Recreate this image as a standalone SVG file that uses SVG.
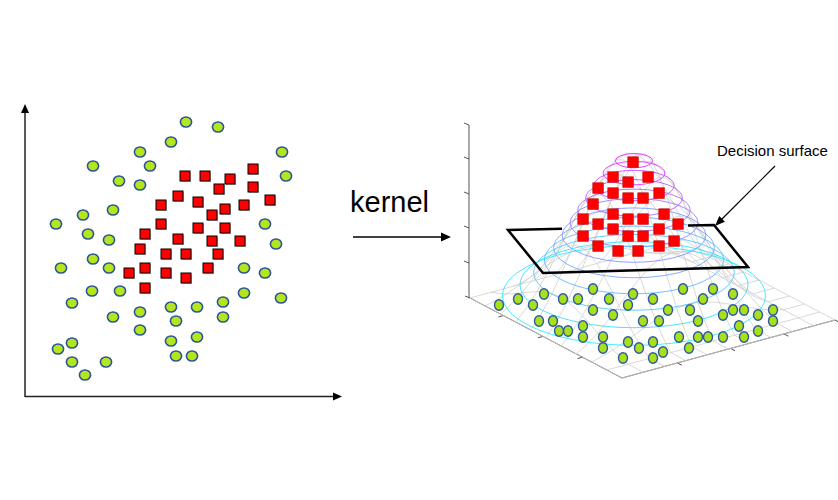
<svg xmlns="http://www.w3.org/2000/svg" width="838" height="500" viewBox="0 0 838 500">
<defs>
<style>
.ax{stroke:#222;stroke-width:1.5;fill:none}
.txt{font-family:"Liberation Sans",Arial,sans-serif;fill:#000}
.mesh line,.mesh use{stroke:#cfcfcf;stroke-width:0.8;fill:none}
.ring{fill:none;stroke-width:1;stroke-opacity:.8}
.rax{stroke:#555;stroke-width:1;fill:none}
</style>
<ellipse id="lc" rx="5.6" ry="5" fill="#b5e61d" stroke="#2a5596" stroke-width="1.6"/>
<g id="ls"><rect x="-4" y="-4" width="10" height="10" fill="#8a8a8a" opacity="0.6"/><rect x="-5" y="-5" width="10" height="10" fill="#ff0000" stroke="#000" stroke-width="1"/></g>
<ellipse id="rc" rx="4.5" ry="5.3" fill="#a9e01c" stroke="#2f5aa0" stroke-width="1.4"/>
<rect id="rs" x="-5.2" y="-5.2" width="10.5" height="10.5" fill="#ff0000" stroke="#c00000" stroke-width="0.6"/>
<path id="prof" vector-effect="non-scaling-stroke" d="M0,0 L5,8.94 L10,20.29 L15,33.76 L20,48.66 L25,63.93 L30,78.13 L35,89.73 L40,97.35 L45,100 L50,97.35 L55,89.73 L60,78.13 L65,63.93 L70,48.66 L75,33.76 L80,20.29 L85,8.94 L90,0 L100,0"/>
</defs>
<rect width="838" height="500" fill="#fff"/>

<g id="left-plot">
<line class="ax" x1="25" y1="397" x2="25" y2="112"/>
<polygon points="25,104 21,113 29,113" fill="#000"/>
<line class="ax" x1="25" y1="396.5" x2="334" y2="396.5"/>
<polygon points="342,396.5 333,392.5 333,400.5" fill="#000"/>
<g id="left-circles">
<use href="#lc" x="186" y="122"/><use href="#lc" x="218" y="127"/><use href="#lc" x="171" y="142"/><use href="#lc" x="140" y="152"/>
<use href="#lc" x="93" y="166"/><use href="#lc" x="150" y="166"/><use href="#lc" x="282" y="152"/><use href="#lc" x="119" y="181"/>
<use href="#lc" x="140" y="185"/><use href="#lc" x="286" y="176"/><use href="#lc" x="113" y="210"/><use href="#lc" x="83" y="215"/>
<use href="#lc" x="56" y="224"/><use href="#lc" x="88" y="234"/><use href="#lc" x="109" y="240"/><use href="#lc" x="265" y="224"/>
<use href="#lc" x="276" y="244"/><use href="#lc" x="93" y="259"/><use href="#lc" x="61" y="268"/><use href="#lc" x="109" y="268"/>
<use href="#lc" x="92" y="291"/><use href="#lc" x="120" y="291"/><use href="#lc" x="72" y="303"/><use href="#lc" x="113" y="317"/>
<use href="#lc" x="140" y="312"/><use href="#lc" x="171" y="307"/><use href="#lc" x="176" y="321"/><use href="#lc" x="140" y="330"/>
<use href="#lc" x="72" y="343"/><use href="#lc" x="58" y="349"/><use href="#lc" x="171" y="341"/><use href="#lc" x="176" y="356"/>
<use href="#lc" x="72" y="362"/><use href="#lc" x="106" y="362"/><use href="#lc" x="85" y="375"/><use href="#lc" x="192" y="356"/>
<use href="#lc" x="244" y="268"/><use href="#lc" x="265" y="273"/><use href="#lc" x="244" y="293"/><use href="#lc" x="281" y="298"/>
<use href="#lc" x="223" y="302"/><use href="#lc" x="197" y="307"/><use href="#lc" x="223" y="317"/><use href="#lc" x="197" y="337"/>
</g>
<g id="left-squares">
<use href="#ls" x="185" y="176"/><use href="#ls" x="205" y="176"/><use href="#ls" x="230" y="179"/><use href="#ls" x="253" y="169"/>
<use href="#ls" x="219" y="189"/><use href="#ls" x="253" y="187"/><use href="#ls" x="178" y="196"/><use href="#ls" x="198" y="202"/>
<use href="#ls" x="225" y="209"/><use href="#ls" x="244" y="205"/><use href="#ls" x="270" y="200"/><use href="#ls" x="212" y="215"/>
<use href="#ls" x="198" y="228"/><use href="#ls" x="225" y="228"/><use href="#ls" x="178" y="239"/><use href="#ls" x="212" y="241"/>
<use href="#ls" x="240" y="241"/><use href="#ls" x="161" y="205"/><use href="#ls" x="161" y="224"/><use href="#ls" x="145" y="234"/>
<use href="#ls" x="140" y="249"/><use href="#ls" x="166" y="254"/><use href="#ls" x="186" y="254"/><use href="#ls" x="218" y="254"/>
<use href="#ls" x="145" y="268"/><use href="#ls" x="129" y="273"/><use href="#ls" x="166" y="273"/><use href="#ls" x="186" y="278"/>
<use href="#ls" x="145" y="288"/><use href="#ls" x="208" y="268"/>
</g>
</g>

<g id="kernel">
<text class="txt" x="350" y="212" font-size="29">kernel</text>
<line x1="353" y1="237" x2="442" y2="237" stroke="#000" stroke-width="1.5"/>
<polygon points="451,237 441,232.5 441,241.5" fill="#000"/>
</g>

<g id="right-plot">
<g id="axes3d">
<line class="rax" x1="469" y1="125" x2="469" y2="298"/>
<path class="rax" d="M469,125 l-5,-2 M469,159 l-5,-2 M469,194 l-5,-2 M469,228 l-5,-2 M469,263 l-5,-2 M470,298 l-5,-2"/>
<line class="rax" x1="470" y1="298" x2="622" y2="378"/>
<line class="rax" x1="622" y1="378" x2="835" y2="320"/>
<path class="rax" d="M503.4,315.6 l-5,1.4 M543,336.4 l-5,1.4 M582.5,357.2 l-5,1.4 M677.4,362.9 l4.4,2.3 M730.6,348.4 l4.4,2.3 M783.9,333.9 l4.4,2.3 M835,320 l4.4,2.3"/>
</g>
<g id="mesh" class="mesh">
<line x1="470" y1="298" x2="683" y2="240"/>
<use href="#prof" transform="matrix(2.13,-0.58,0,-0.314,485.2,306)"/>
<use href="#prof" transform="matrix(2.13,-0.58,0,-0.754,500.4,314)"/>
<use href="#prof" transform="matrix(2.13,-0.58,0,-1.211,515.6,322)"/>
<use href="#prof" transform="matrix(2.13,-0.58,0,-1.509,530.8,330)"/>
<use href="#prof" transform="matrix(2.13,-0.58,0,-1.509,546,338)"/>
<use href="#prof" transform="matrix(2.13,-0.58,0,-1.211,561.2,346)"/>
<use href="#prof" transform="matrix(2.13,-0.58,0,-0.754,576.4,354)"/>
<use href="#prof" transform="matrix(2.13,-0.58,0,-0.314,591.6,362)"/>
<line x1="606.8" y1="370" x2="819.8" y2="312"/>
<line x1="622" y1="378" x2="835" y2="320"/>
<line x1="470" y1="298" x2="622" y2="378"/>
<use href="#prof" transform="matrix(1.52,0.8,0,-0.314,491.3,292.2)"/>
<use href="#prof" transform="matrix(1.52,0.8,0,-0.754,512.6,286.4)"/>
<use href="#prof" transform="matrix(1.52,0.8,0,-1.211,533.9,280.6)"/>
<use href="#prof" transform="matrix(1.52,0.8,0,-1.509,555.2,274.8)"/>
<use href="#prof" transform="matrix(1.52,0.8,0,-1.509,576.5,269)"/>
<use href="#prof" transform="matrix(1.52,0.8,0,-1.211,597.8,263.2)"/>
<use href="#prof" transform="matrix(1.52,0.8,0,-0.754,619.1,257.4)"/>
<use href="#prof" transform="matrix(1.52,0.8,0,-0.314,640.4,251.6)"/>
<line x1="661.7" y1="245.8" x2="813.7" y2="325.8"/>
<line x1="683" y1="240" x2="835" y2="320"/>
</g>
<g id="contours">
<ellipse class="ring" cx="634" cy="160.7" rx="18.7" ry="7.1" stroke="rgb(242,13,255)"/>
<ellipse class="ring" cx="634" cy="173.1" rx="30.9" ry="11.7" stroke="rgb(222,33,255)"/>
<ellipse class="ring" cx="634" cy="185.5" rx="40.2" ry="15.2" stroke="rgb(201,54,255)"/>
<ellipse class="ring" cx="634" cy="197.9" rx="48.4" ry="18.3" stroke="rgb(181,74,255)"/>
<ellipse class="ring" cx="634" cy="210.3" rx="56.3" ry="21.2" stroke="rgb(161,94,255)"/>
<ellipse class="ring" cx="634" cy="222.7" rx="64" ry="24.2" stroke="rgb(140,115,255)"/>
<ellipse class="ring" cx="634" cy="235.1" rx="71.9" ry="27.2" stroke="rgb(120,135,255)"/>
<ellipse class="ring" cx="634" cy="247.5" rx="80.3" ry="30.3" stroke="rgb(99,156,255)"/>
<ellipse class="ring" cx="634" cy="259.9" rx="89.6" ry="33.8" stroke="rgb(79,176,255)"/>
<ellipse class="ring" cx="634" cy="272.3" rx="100.3" ry="37.9" stroke="rgb(59,196,255)"/>
<ellipse class="ring" cx="634" cy="284.7" rx="114" ry="43" stroke="rgb(38,217,255)"/>
<ellipse class="ring" cx="634" cy="295.6" rx="131.5" ry="49.7" stroke="rgb(20,235,255)"/>
</g>
<g id="decision-plane">
<path d="M562,228.7 L508,230 L543,273 L748,267 L714,225 L688,225.5" fill="none" stroke="#000" stroke-width="2.5" stroke-linejoin="miter"/>
</g>
<g id="right-circles">
<use href="#rc" x="593" y="289"/><use href="#rc" x="633" y="294"/><use href="#rc" x="518" y="299"/><use href="#rc" x="544" y="294"/>
<use href="#rc" x="563" y="299"/><use href="#rc" x="578" y="299"/><use href="#rc" x="609" y="299"/><use href="#rc" x="499" y="305"/>
<use href="#rc" x="533" y="305"/><use href="#rc" x="628" y="305"/><use href="#rc" x="593" y="310"/><use href="#rc" x="613" y="315"/>
<use href="#rc" x="539" y="321"/><use href="#rc" x="553" y="321"/><use href="#rc" x="643" y="321"/><use href="#rc" x="583" y="326"/>
<use href="#rc" x="559" y="331"/><use href="#rc" x="568" y="331"/><use href="#rc" x="583" y="337"/><use href="#rc" x="603" y="337"/>
<use href="#rc" x="628" y="342"/><use href="#rc" x="639" y="348"/><use href="#rc" x="603" y="348"/><use href="#rc" x="623" y="358"/>
<use href="#rc" x="653" y="358"/><use href="#rc" x="683" y="289"/><use href="#rc" x="713" y="289"/><use href="#rc" x="653" y="299"/>
<use href="#rc" x="703" y="299"/><use href="#rc" x="733" y="294"/><use href="#rc" x="668" y="310"/><use href="#rc" x="690" y="310"/>
<use href="#rc" x="723" y="315"/><use href="#rc" x="733" y="310"/><use href="#rc" x="744" y="310"/><use href="#rc" x="758" y="315"/>
<use href="#rc" x="773" y="310"/><use href="#rc" x="773" y="321"/><use href="#rc" x="659" y="321"/><use href="#rc" x="698" y="321"/>
<use href="#rc" x="739" y="326"/><use href="#rc" x="758" y="331"/><use href="#rc" x="679" y="337"/><use href="#rc" x="698" y="337"/>
<use href="#rc" x="708" y="337"/><use href="#rc" x="723" y="337"/><use href="#rc" x="744" y="337"/><use href="#rc" x="653" y="342"/>
<use href="#rc" x="689" y="348"/><use href="#rc" x="663" y="352"/>
</g>
<g id="right-squares">
<use href="#rs" x="633" y="162"/><use href="#rs" x="613" y="177"/><use href="#rs" x="628" y="182"/><use href="#rs" x="648" y="177"/>
<use href="#rs" x="598" y="188"/><use href="#rs" x="613" y="193"/><use href="#rs" x="628" y="198"/><use href="#rs" x="643" y="198"/>
<use href="#rs" x="659" y="193"/><use href="#rs" x="593" y="204"/><use href="#rs" x="613" y="214"/><use href="#rs" x="583" y="219"/>
<use href="#rs" x="598" y="224"/><use href="#rs" x="628" y="219"/><use href="#rs" x="643" y="219"/><use href="#rs" x="664" y="214"/>
<use href="#rs" x="678" y="224"/><use href="#rs" x="583" y="236"/><use href="#rs" x="613" y="229"/><use href="#rs" x="628" y="236"/>
<use href="#rs" x="643" y="236"/><use href="#rs" x="659" y="229"/><use href="#rs" x="674" y="241"/><use href="#rs" x="598" y="246"/>
<use href="#rs" x="618" y="251"/><use href="#rs" x="638" y="251"/><use href="#rs" x="659" y="246"/>
</g>
</g>

<g id="decision-label">
<text class="txt" x="717" y="156" font-size="15">Decision surface</text>
<line x1="775" y1="166" x2="721" y2="220" stroke="#000" stroke-width="1.2"/>
<polygon points="715,226 724.9,221.7 719.3,216.1" fill="#000"/>
</g>
</svg>
